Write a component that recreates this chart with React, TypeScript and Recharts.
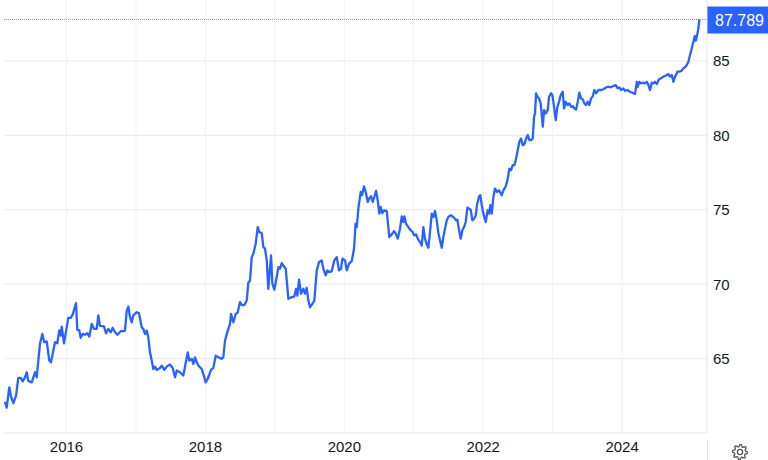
import { LineChart, Line, XAxis, YAxis, CartesianGrid, ReferenceLine } from "recharts";

// decimal years and values
const years = [
  2015.114, 2015.139, 2015.176, 2015.201, 2015.234, 2015.273, 2015.306, 2015.34, 2015.369, 2015.402,
  2015.427, 2015.45, 2015.499, 2015.546, 2015.571, 2015.618, 2015.652, 2015.68, 2015.715, 2015.752,
  2015.777, 2015.834, 2015.868, 2015.896, 2015.916, 2015.931, 2015.964, 2016.026, 2016.06, 2016.089,
  2016.137, 2016.156, 2016.184, 2016.204, 2016.233, 2016.266, 2016.3, 2016.328, 2016.363, 2016.396,
  2016.435, 2016.458, 2016.482, 2016.54, 2016.569, 2016.602, 2016.636, 2016.665, 2016.698, 2016.732,
  2016.78, 2016.828, 2016.842, 2016.867, 2016.89, 2016.914, 2016.939, 2016.962, 2017.011, 2017.044,
  2017.083, 2017.106, 2017.13, 2017.155, 2017.178, 2017.202, 2017.227, 2017.25, 2017.274, 2017.299,
  2017.346, 2017.371, 2017.408, 2017.443, 2017.49, 2017.529, 2017.562, 2017.587, 2017.634, 2017.682,
  2017.721, 2017.745, 2017.768, 2017.803, 2017.826, 2017.85, 2017.875, 2017.898, 2017.947, 2017.984,
  2018.004, 2018.042, 2018.081, 2018.114, 2018.148, 2018.186, 2018.235, 2018.258, 2018.282, 2018.321,
  2018.354, 2018.369, 2018.402, 2018.436, 2018.465, 2018.498, 2018.527, 2018.56, 2018.595, 2018.618,
  2018.642, 2018.667, 2018.69, 2018.724, 2018.753, 2018.776, 2018.811, 2018.834, 2018.858, 2018.883,
  2018.906, 2018.945, 2018.964, 2018.992, 2019.027, 2019.05, 2019.074, 2019.099, 2019.122, 2019.156,
  2019.18, 2019.194, 2019.243, 2019.28, 2019.305, 2019.324, 2019.348, 2019.377, 2019.41, 2019.434,
  2019.459, 2019.482, 2019.506, 2019.54, 2019.568, 2019.603, 2019.636, 2019.675, 2019.698, 2019.732,
  2019.756, 2019.784, 2019.819, 2019.856, 2019.891, 2019.924, 2019.953, 2019.972, 2020.01, 2020.035,
  2020.068, 2020.107, 2020.14, 2020.162, 2020.179, 2020.205, 2020.236, 2020.255, 2020.284, 2020.313,
  2020.337, 2020.36, 2020.385, 2020.409, 2020.432, 2020.457, 2020.481, 2020.504, 2020.524, 2020.548,
  2020.576, 2020.611, 2020.648, 2020.683, 2020.716, 2020.74, 2020.769, 2020.802, 2020.827, 2020.85,
  2020.864, 2020.889, 2020.922, 2020.946, 2020.985, 2021.004, 2021.033, 2021.057, 2021.09, 2021.115,
  2021.138, 2021.162, 2021.187, 2021.21, 2021.234, 2021.259, 2021.282, 2021.306, 2021.331, 2021.354,
  2021.378, 2021.403, 2021.426, 2021.45, 2021.475, 2021.498, 2021.532, 2021.57, 2021.609, 2021.628,
  2021.652, 2021.676, 2021.7, 2021.724, 2021.748, 2021.772, 2021.796, 2021.82, 2021.844, 2021.868,
  2021.892, 2021.911, 2021.94, 2021.959, 2021.979, 2022.002, 2022.036, 2022.065, 2022.084, 2022.103,
  2022.123, 2022.146, 2022.17, 2022.199, 2022.228, 2022.267, 2022.29, 2022.324, 2022.348, 2022.376,
  2022.401, 2022.425, 2022.448, 2022.468, 2022.497, 2022.52, 2022.545, 2022.569, 2022.592, 2022.617,
  2022.641, 2022.664, 2022.689, 2022.713, 2022.732, 2022.746, 2022.761, 2022.78, 2022.804, 2022.828,
  2022.857, 2022.876, 2022.9, 2022.929, 2022.948, 2022.977, 2022.996, 2023.02, 2023.044, 2023.068,
  2023.092, 2023.116, 2023.145, 2023.164, 2023.188, 2023.217, 2023.24, 2023.265, 2023.289, 2023.312,
  2023.337, 2023.361, 2023.384, 2023.409, 2023.433, 2023.456, 2023.481, 2023.505, 2023.528, 2023.553,
  2023.577, 2023.6, 2023.625, 2023.658, 2023.697, 2023.73, 2023.769, 2023.802, 2023.836, 2023.874,
  2023.908, 2023.937, 2023.96, 2023.985, 2024.018, 2024.042, 2024.076, 2024.114, 2024.162, 2024.186,
  2024.211, 2024.225, 2024.248, 2024.273, 2024.306, 2024.33, 2024.355, 2024.378, 2024.402, 2024.427,
  2024.45, 2024.474, 2024.499, 2024.532, 2024.561, 2024.594, 2024.618, 2024.643, 2024.666, 2024.69,
  2024.715, 2024.738, 2024.762, 2024.796, 2024.824, 2024.859, 2024.882, 2024.906, 2024.931, 2024.954,
  2024.978, 2025.003, 2025.026, 2025.046, 2025.06, 2025.075, 2025.094, 2025.112,
];

const prices = [
  62.1, 61.7, 63.07, 62.44, 62.0, 62.5, 63.7, 63.7, 63.47, 63.74,
  64.08, 63.5, 63.4, 64.08, 63.74, 66.0, 66.66, 66.1, 66.16, 64.87,
  64.75, 66.1, 66.03, 66.9, 66.55, 67.15, 66.03, 67.74, 67.74, 67.96,
  68.73, 66.93, 66.9, 66.4, 66.66, 66.6, 66.7, 66.48, 67.33, 67.0,
  67.0, 67.9, 67.2, 67.17, 66.7, 67.0, 66.77, 67.07, 66.77, 66.6,
  66.84, 66.84, 66.88, 68.2, 68.5, 67.78, 67.44, 67.9, 68.12, 68.05,
  67.1, 67.0, 66.66, 66.88, 66.43, 65.42, 64.87, 64.3, 64.46, 64.24,
  64.37, 64.53, 64.24, 64.46, 64.6, 64.37, 63.74, 64.2, 64.08, 63.86,
  64.82, 65.42, 64.87, 64.98, 64.64, 65.09, 64.75, 64.53, 64.3, 63.74,
  63.4, 63.74, 64.24, 64.37, 65.2, 65.09, 64.98, 65.09, 66.2, 66.88,
  67.33, 68.0, 67.44, 68.0, 68.1, 68.8, 68.6, 68.6, 68.9, 70.1,
  70.25, 71.82, 72.05, 72.72, 73.84, 73.5, 73.44, 72.5, 72.39, 71.6,
  69.69, 71.94, 70.03, 69.63, 70.48, 71.15, 71.04, 71.42, 71.26, 71.04,
  69.8, 69.02, 69.13, 69.17, 69.69, 69.24, 70.3, 69.36, 69.69, 69.36,
  69.76, 68.9, 68.45, 68.68, 68.9, 70.93, 71.49, 71.6, 71.04, 70.59,
  70.93, 70.81, 70.88, 71.6, 71.82, 70.93, 71.04, 71.72, 71.6, 70.93,
  71.38, 71.55, 72.4, 74.07, 73.84, 75.2, 76.2, 75.98, 76.58, 76.09,
  75.53, 75.76, 75.91, 75.53, 75.86, 76.27, 75.64, 74.74, 75.19, 74.78,
  74.97, 74.92, 73.17, 73.35, 73.57, 73.4, 73.06, 73.73, 74.56, 74.18,
  74.56, 74.07, 73.84, 73.67, 73.5, 73.28, 73.35, 73.06, 72.83, 72.6,
  73.84, 73.06, 72.68, 72.45, 73.5, 74.74, 74.52, 74.92, 74.29, 73.44,
  72.95, 72.45, 73.17, 73.73, 74.29, 74.52, 74.63, 74.52, 74.29, 74.34,
  73.62, 73.06, 73.62, 73.84, 74.18, 75.15, 75.08, 75.0, 74.29, 74.4,
  74.6, 75.35, 75.9, 75.98, 75.31, 74.74, 74.18, 74.97, 74.74, 75.31,
  74.74, 75.86, 76.43, 76.2, 76.31, 75.98, 76.31, 76.58, 76.98, 77.77,
  77.66, 78.0, 78.0, 78.33, 79.0, 79.57, 79.79, 79.34, 79.41, 79.79,
  80.02, 79.68, 79.68, 79.79, 81.25, 81.48, 82.83, 82.6, 82.49, 82.15,
  80.58, 81.7, 81.48, 81.7, 82.6, 82.83, 82.71, 81.92, 81.03, 81.92,
  82.26, 82.71, 82.93, 81.81, 82.26, 82.04, 82.15, 81.92, 81.97, 81.81,
  81.74, 82.26, 82.87, 82.49, 82.42, 82.15, 82.04, 82.26, 82.04, 82.49,
  82.64, 83.05, 82.83, 83.05, 83.05, 83.1, 83.23, 83.27, 83.23, 83.32,
  83.38, 83.16, 83.23, 83.05, 83.16, 83.0, 83.05, 82.93, 82.83, 82.78,
  83.6, 83.27, 83.6, 83.5, 83.54, 83.5, 83.6, 83.38, 83.05, 83.54,
  83.5, 83.6, 83.45, 83.77, 83.84, 83.95, 83.99, 84.06, 84.12, 83.95,
  84.06, 83.6, 83.95, 84.28, 84.28, 84.35, 84.51, 84.58, 84.73, 84.95,
  85.4, 85.86, 86.3, 86.68, 86.37, 86.64, 87.09, 87.789,
];

const yearTicks = [2016, 2018, 2020, 2022, 2024];
const gridYears = [2016, 2017, 2018, 2019, 2020, 2021, 2022, 2023, 2024];
const valueTicks = [65, 70, 75, 80, 85];
const lastValue = 87.789;

const data = years.map((t, i) => ({ t, v: prices[i] }));

const font = "'Liberation Sans', Arial, sans-serif";

function PriceTag(props: any) {
  const { viewBox } = props;
  const x = viewBox.x + viewBox.width;
  const y = viewBox.y;
  return (
    <g>
      <rect x={x} y={y - 13} width={61} height={27} fill="#2962ff" />
      <text x={x + 8} y={y + 6} fill="#ffffff" fontSize={16} fontFamily={font}>
        {lastValue}
      </text>
    </g>
  );
}

function Gear() {
  const pts: string[] = [];
  const teeth = 8;
  for (let i = 0; i < teeth * 4; i++) {
    const a = (i / (teeth * 4)) * Math.PI * 2;
    const r = i % 4 < 2 ? 7.5 : 5.6;
    pts.push(`${(8 + r * Math.cos(a)).toFixed(2)},${(8 + r * Math.sin(a)).toFixed(2)}`);
  }
  return (
    <svg width={16} height={16} style={{ position: "absolute", left: 732, top: 444 }}>
      <polygon points={pts.join(" ")} fill="none" stroke="#555" strokeWidth={1.3} strokeLinejoin="round" />
      <circle cx={8} cy={8} r={2.6} fill="none" stroke="#555" strokeWidth={1.3} />
    </svg>
  );
}

export default function App() {
  return (
    <div style={{ position: "fixed", left: 0, top: 0, width: 768, height: 460, background: "#fff" }}>
      <LineChart width={768} height={460} data={data} margin={{ top: 0, right: 0, bottom: 0, left: 4 }}>
        <CartesianGrid vertical={false} stroke="#e9e9ea" horizontalValues={valueTicks} />
        <CartesianGrid horizontal={false} stroke="#eef2f8" verticalValues={gridYears} />
        <XAxis
          dataKey="t"
          type="number"
          domain={[2015.1, 2025.222]}
          ticks={yearTicks}
          allowDataOverflow
          tickFormatter={(v) => String(Math.round(v))}
          height={27}
          tickLine={false}
          tickSize={8}
          tickMargin={0}
          axisLine={{ stroke: "#e0e3eb" }}
          tick={{ fill: "#131722", fontSize: 15, fontFamily: font }}
        />
        <YAxis
          orientation="right"
          type="number"
          domain={[60, 89.1]}
          ticks={valueTicks}
          allowDataOverflow
          width={61}
          tickLine={false}
          tickSize={6}
          tickMargin={0}
          axisLine={{ stroke: "#e0e3eb" }}
          tick={{ fill: "#131722", fontSize: 15, fontFamily: font, textAnchor: "start" }}
        />
        <ReferenceLine
          y={lastValue}
          stroke="#5a82ff"
          strokeOpacity={0.8}
          strokeDasharray="1 1"
          label={{ content: PriceTag }}
        />
        <Line
          type="linear"
          dataKey="v"
          stroke="#2962ff"
          strokeWidth={2.3}
          strokeLinejoin="round"
          dot={false}
          isAnimationActive={false}
        />
      </LineChart>
      <div style={{ position: "absolute", left: 707, top: 440, width: 1, height: 20, background: "#e0e3eb" }} />
      <Gear />
    </div>
  );
}
